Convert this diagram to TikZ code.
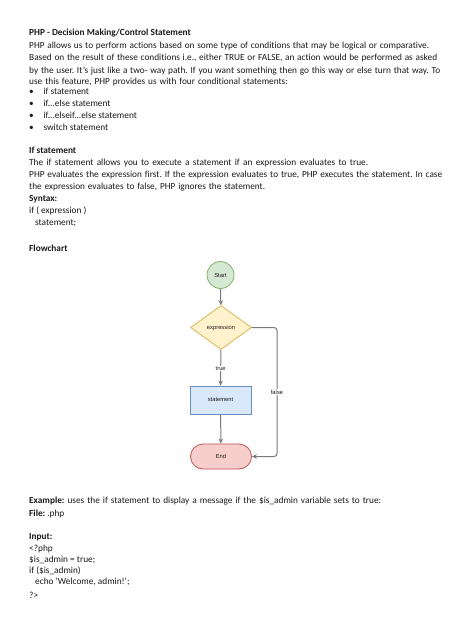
\documentclass[tikz,border=0pt]{standalone}
\usepackage{fontspec}
\setmainfont[Ligatures=NoCommon]{Carlito}
\newfontfamily\fcfont{Liberation Sans}
\usetikzlibrary{shapes.geometric,arrows.meta}
\definecolor{txt}{HTML}{1A1A1A}
\definecolor{edgec}{HTML}{7A7A7A}
\frenchspacing
\newcommand{\fitline}[2]{\makebox[#1pt][s]{\frenchspacing\spaceskip=0.226em plus 1em minus 0.2em\relax\xspaceskip=\spaceskip #2}}
\tikzset{
  x=1pt,y=-1pt,
  line/.style={anchor=base west,inner sep=0pt,text=txt,font=\fontsize{9.3}{11}\selectfont},
  hd/.style={line,font=\fontsize{9.3}{11}\selectfont\bfseries},
  fc/.style={draw,line width=0.8pt,font=\fcfont\fontsize{5.8}{7}\selectfont,text=txt,inner sep=0pt},
  edge/.style={draw=edgec,line width=1pt,-{Stealth[length=5pt,width=4.5pt]}},
  lbl/.style={fill=white,inner sep=1pt,font=\fcfont\fontsize{5.8}{7}\selectfont,text=txt}
}
\begin{document}
\begin{tikzpicture}
\useasboundingbox[fill=white] (0,0) rectangle (474,632);
% intro
\node[hd] (t1) at (29,35.3) {PHP - Decision Making/Control Statement};
\node[line] (p1) at (29,48.7) {\fitline{400}{PHP allows us to perform actions based on some type of conditions that may be logical or comparative.}};
\node[line] (p2) at (29,60.7) {\fitline{408}{Based on the result of these conditions i.e., either TRUE or FALSE, an action would be performed as asked}};
\node[line] (p3) at (29,73) {\fitline{411}{by the user. It's just like a two- way path. If you want something then go this way or else turn that way. To}};
\node[line] (p4) at (29,84.7) {\fitline{258.7}{use this feature, PHP provides us with four conditional statements:}};
\node[line] (b1d) at (29,94.7) {\textbullet};
\node[line] (b1) at (43.3,94.7) {if statement};
\node[line] (b2d) at (29,106.3) {\textbullet};
\node[line] (b2) at (43.3,106.3) {if...else statement};
\node[line] (b3d) at (29,118.7) {\textbullet};
\node[line] (b3) at (43.3,118.7) {if...elseif...else statement};
\node[line] (b4d) at (29,130.7) {\textbullet};
\node[line] (b4) at (43.3,130.7) {switch statement};
% if statement
\node[hd] (t2) at (29,153.7) {If statement};
\node[line] (q1) at (29,165.7) {\fitline{339}{The if statement allows you to execute a statement if an expression evaluates to true.}};
\node[line] (q2) at (29,177.7) {\fitline{413}{PHP evaluates the expression first. If the expression evaluates to true, PHP executes the statement. In case}};
\node[line] (q3) at (29,189.7) {\fitline{236}{the expression evaluates to false, PHP ignores the statement.}};
\node[hd] (t3) at (29,201.3) {Syntax:};
\node[line] (s1) at (29,213.7) {if ( expression )};
\node[line] (s2) at (35,225.3) {statement;};
\node[hd] (t4) at (29,251.3) {Flowchart};
% flowchart
\node[fc,circle,minimum size=27pt,draw={rgb,255:red,130;green,179;blue,102},fill={rgb,255:red,213;green,232;blue,212}] (start) at (220.5,275) {Start};
\node[fc,diamond,aspect=1.39,minimum width=61pt,minimum height=44pt,draw={rgb,255:red,214;green,182;blue,86},fill={rgb,255:red,255;green,242;blue,204}] (expr) at (221,327.5) {expression};
\node[fc,rectangle,minimum width=61pt,minimum height=28pt,draw={rgb,255:red,108;green,142;blue,191},fill={rgb,255:red,218;green,232;blue,252}] (stmt) at (220.5,400) {statement};
\node[fc,rectangle,rounded corners=12.5pt,minimum width=61pt,minimum height=25pt,draw={rgb,255:red,184;green,84;blue,80},fill={rgb,255:red,248;green,206;blue,204}] (end) at (221,456.5) {End};
\coordinate (fx) at (277,400);
\draw[edge] (start) -- (expr);
\draw[edge] (expr) -- node[lbl,pos=0.52] (tlab) {true} (stmt);
\draw[edge] (stmt) -- (end);
\draw[edge,rounded corners=3pt] (expr.east) -| (fx) |- (end.east);
\node[lbl] (flab) at (277,392) {false};
% example
\node[line] (e1) at (29,503.7) {\fitline{352}{\textbf{Example:} uses the if statement to display a message if the \$is\_admin variable sets to true:}};
\node[line] (e2) at (29,516.3) {\textbf{File:} .php};
\node[hd] (t5) at (29,539.7) {Input:};
\node[line] (c1) at (29,551.3) {<?php};
\node[line] (c2) at (29,562.3) {\$is\_admin = true;};
\node[line] (c3) at (29,573.7) {if (\$is\_admin)};
\node[line] (c4) at (35,584.7) {echo 'Welcome, admin!';};
\node[line] (c5) at (29,598) {?>};
\end{tikzpicture}
\end{document}
